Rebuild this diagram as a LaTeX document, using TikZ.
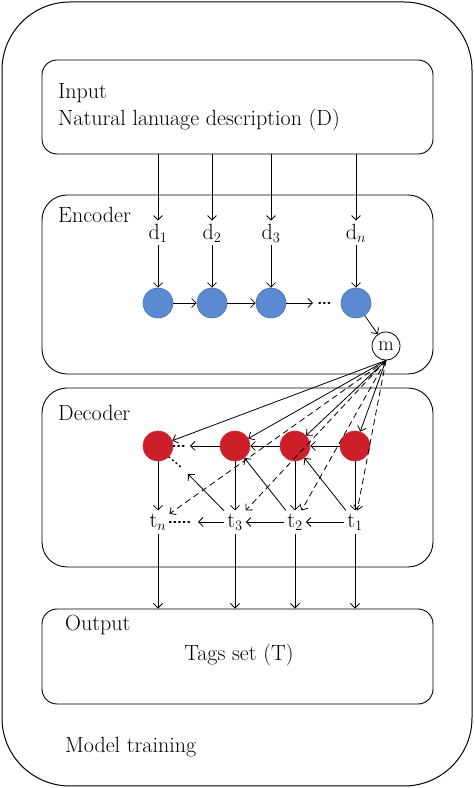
\documentclass[tikz,border=0pt]{standalone}
\usetikzlibrary{arrows.meta}
\definecolor{encblue}{HTML}{5B8AD3}
\definecolor{encedge}{HTML}{4A72B0}
\definecolor{decred}{HTML}{CC1F2A}
\tikzset{
 frame/.style={draw,line width=1pt,rounded corners=68pt},
 stage/.style={draw,line width=.9pt,rounded corners=15pt,minimum width=391pt,inner sep=0},
 txt/.style={font=\fontsize{22}{26}\selectfont,inner sep=0},
 sym/.style={font=\fontsize{22}{26}\selectfont,inner sep=3pt},
 arr/.style={line width=.8pt,-{Straight Barb[length=4.5pt,width=9pt]}},
 dasharr/.style={arr,dash pattern=on 6pt off 4pt},
 dotline/.style={line width=1.4pt,dash pattern=on 1.4pt off 3.2pt,line cap=round},
 encnode/.style={circle,draw=encedge,fill=encblue,line width=.6pt,minimum size=30pt,inner sep=0},
 decnode/.style={circle,draw=decred!90!white,fill=decred,line width=.6pt,minimum size=30pt,inner sep=0},
 memory/.style={circle,draw,line width=.8pt,fill=white,minimum size=28pt,inner sep=0,font=\fontsize{20}{22}\selectfont}
}
\begin{document}
\begin{tikzpicture}[x=1pt,y=1pt]
\path[use as bounding box] (0,0) rectangle (474,788);
\draw[frame] (2,2) rectangle (472,786);
% stages
\node[stage,minimum height=94pt] (input) at (237.5,681) {};
\node[stage,minimum height=179pt,rounded corners=25pt] (encoder) at (237.5,503.5) {};
\node[stage,minimum height=179pt,rounded corners=25pt] (decoder) at (237.5,310.5) {};
\node[stage,minimum height=95pt] (output) at (237.5,131.5) {};
\node[txt,anchor=west] (inputlbl) at (58,695) {Input};
\node[txt,anchor=west] (desc) at (58,668) {Natural lanuage description (D)};
\node[txt,anchor=west] (enclbl) at (58,573) {Encoder};
\node[txt,anchor=west] (declbl) at (58,375) {Decoder};
\node[txt,anchor=west] (outlbl) at (65,163) {Output};
\node[txt] (tags) at (239,133) {Tags set (T)};
\node[txt,anchor=west] (train) at (65,41) {Model training};
% encoder
\node[sym] (d1) at (158,555) {d$_1$};
\node[sym] (d2) at (212,555) {d$_2$};
\node[sym] (d3) at (271,555) {d$_3$};
\node[sym] (dn) at (356,555) {d$_n$};
\node[encnode] (e1) at (158,485) {};
\node[encnode] (e2) at (212,485) {};
\node[encnode] (e3) at (271,485) {};
\node[encnode] (en) at (356,485) {};
\coordinate (edots) at (313,485);
\node[memory] (m) at (386,442) {m};
\foreach \d/\e in {d1/e1,d2/e2,d3/e3,dn/en}{
 \draw[arr] (input.south -| \d) -- (\d.north);
 \draw[arr] (\d.south) -- (\e);
}
\draw[arr] (e1) -- (e2);
\draw[arr] (e2) -- (e3);
\draw[arr] (e3) -- (edots);
\draw[dotline] ([xshift=6pt]edots) -- ([xshift=17pt]edots);
\draw[arr] (en) -- (m);
% decoder
\node[decnode] (rn) at (158,342) {};
\node[decnode] (r3) at (235,342) {};
\node[decnode] (r2) at (295,342) {};
\node[decnode] (r1) at (355,342) {};
\node[sym] (tn) at (158,266) {t$_n$};
\node[sym] (t3) at (235,266) {t$_3$};
\node[sym] (t2) at (295,266) {t$_2$};
\node[sym] (t1) at (355,266) {t$_1$};
\coordinate (rdots) at (190,342);
\coordinate (tdots) at (198,266);
\coordinate (ddots) at (188,314);
\draw[arr] (r1) -- (r2);
\draw[arr] (r2) -- (r3);
\draw[arr] (r3) -- (rdots);
\draw[dotline] (rn.east) -- ([xshift=-6pt]rdots);
\draw[arr] (t1) -- (t2);
\draw[arr] (t2) -- (t3);
\draw[arr] (t3) -- (tdots);
\draw[dotline] (tn.east) -- ([xshift=-6pt]tdots);
\draw[arr] (t1) -- (r2);
\draw[arr] (t2) -- (r3);
\draw[arr] (t3) -- (ddots);
\draw[dotline] (rn.south east) -- ([shift={(-6pt,6pt)}]ddots);
\foreach \r/\t in {rn/tn,r3/t3,r2/t2,r1/t1}{
 \draw[arr] (\r) -- (\t.north);
 \draw[arr] (m.south) -- (\r);
 \draw[dasharr] (m.south) -- (\t);
 \draw[arr] (\t.south) -- (output.north -| \t);
}
\end{tikzpicture}
\end{document}
